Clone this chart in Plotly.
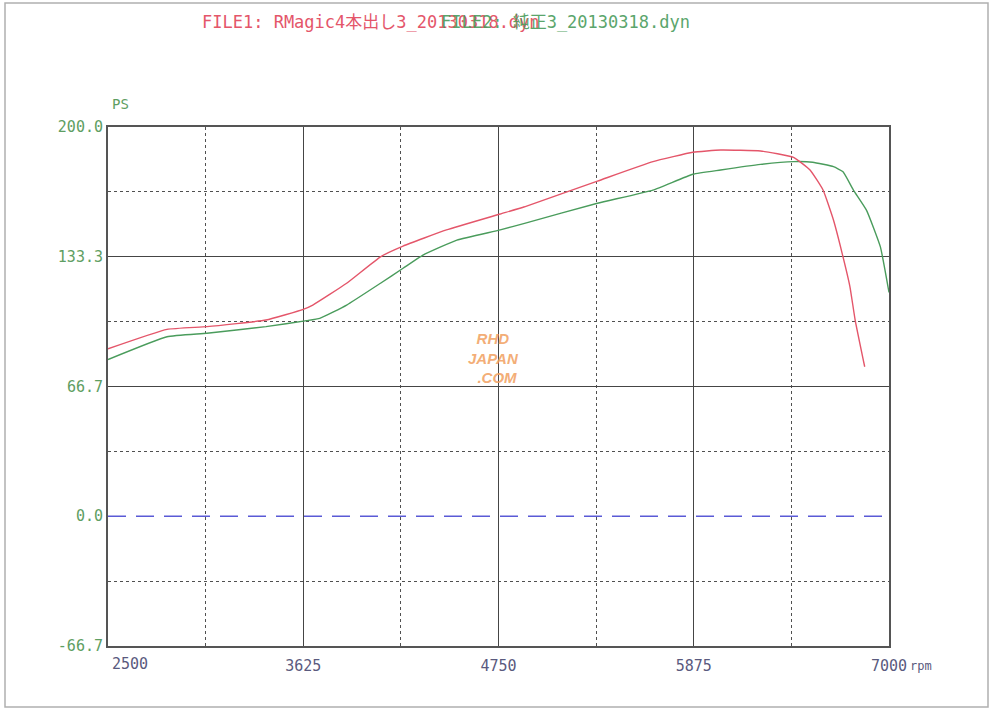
import plotly.graph_objects as go

# ---- data ----
rpm_red = [2500, 2840, 3070, 3410, 3625, 3680, 3875, 4070, 4200, 4450, 4760, 4900,
           5320, 5640, 5870, 6030, 6260, 6450, 6545, 6620, 6680, 6730, 6775, 6805, 6860]
ps_red = [86.0, 96.0, 97.4, 100.8, 106.3, 108.5, 119.7, 133.3, 138.8, 147.1, 155.3, 159.0,
          172.2, 182.2, 187.0, 188.2, 187.7, 184.4, 177.9, 167.6, 152.2, 135.1, 117.9, 100.8, 76.8]

rpm_green = [2500, 2840, 3070, 3410, 3645, 3720, 3875, 4070, 4200, 4315, 4510, 4760, 4900,
             5320, 5640, 5870, 6030, 6260, 6450, 6560, 6680, 6735, 6795, 6870, 6950, 7000]
ps_green = [80.5, 92.2, 94.0, 97.4, 100.5, 101.7, 108.5, 119.7, 127.4, 134.2, 141.9, 147.1, 150.5,
            160.8, 167.6, 175.7, 177.9, 180.8, 182.2, 181.9, 179.6, 177.0, 167.6, 157.3, 138.5, 115.0]

x_ticks = [2500, 3625, 4750, 5875, 7000]
x_minor = [3062.5, 4187.5, 5312.5, 6437.5]
y_ticks = [-66.7, 0.0, 66.7, 133.3, 200.0]
y_minor = [-33.3, 33.3, 100.0, 166.7]
y_grid = [-66.7, 66.7, 133.3, 200.0]

file1 = "FILE1: RMagic4本出し3_20130318.dyn"
file2 = "FILE2: 純正3_20130318.dyn"

RED = "#e4566a"
GREEN = "#4a9c5c"
LABEL_GREEN = "#5e9e62"
NAVY = "#5a5a7e"
MONO = "DejaVu Sans Mono, Liberation Mono, Noto Sans CJK JP"

fig = go.Figure()
fig.add_trace(go.Scatter(x=rpm_green, y=ps_green, mode="lines",
                         line=dict(color=GREEN, width=1.4, shape="spline", smoothing=0.4),
                         hoverinfo="skip", showlegend=False))
fig.add_trace(go.Scatter(x=rpm_red, y=ps_red, mode="lines",
                         line=dict(color=RED, width=1.4, shape="spline", smoothing=0.4),
                         hoverinfo="skip", showlegend=False))
# invisible trace to activate yaxis2 (grid axis)
fig.add_trace(go.Scatter(x=[x_ticks[0]], y=[y_ticks[0]], yaxis="y2", mode="markers",
                         marker=dict(opacity=0), hoverinfo="skip", showlegend=False))

grid_col = "#454545"
fig.update_layout(
    width=992, height=712,
    margin=dict(l=108, r=103, t=127, b=66),
    paper_bgcolor="white", plot_bgcolor="white",
    xaxis=dict(range=[2500, 7000], tickvals=x_ticks[1:], ticktext=[str(v) for v in x_ticks[1:]],
               showgrid=True, gridcolor=grid_col, gridwidth=1.4,
               minor=dict(tickvals=x_minor, showgrid=True, gridcolor="#505050",
                          griddash="dot", gridwidth=1.3),
               showline=True, mirror=True, linecolor="#555555", linewidth=2,
               zeroline=False, ticks="outside", ticklen=5, tickcolor="rgba(0,0,0,0)",
               tickfont=dict(family=MONO, size=15, color=NAVY)),
    yaxis=dict(range=[-66.7, 200.0], tickvals=y_ticks, ticktext=[f"{v:.1f}" for v in y_ticks],
               showgrid=False, zeroline=False,
               showline=True, mirror=True, linecolor="#555555", linewidth=2,
               ticks="", tickfont=dict(family=MONO, size=15, color=LABEL_GREEN)),
    yaxis2=dict(range=[-66.7, 200.0], overlaying="y", tickvals=y_grid, showticklabels=False,
                showgrid=True, gridcolor=grid_col, gridwidth=1.4, zeroline=False,
                minor=dict(tickvals=y_minor, showgrid=True, gridcolor="#505050",
                           griddash="dot", gridwidth=1.3),
                layer="below traces"),
    shapes=[
        dict(type="line", xref="paper", yref="y", x0=0, x1=1, y0=0, y1=0,
             line=dict(color="#5a5ad6", width=1.6, dash="18px,10px")),
        dict(type="rect", xref="paper", yref="paper",
             x0=(5 - 108) / 781, x1=(988 - 108) / 781,
             y0=(646 - 707) / 519, y1=(646 - 3) / 519,
             line=dict(color="#b0b0b0", width=1.5)),
    ],
    annotations=[
        dict(text=file1, xref="paper", yref="paper", x=(200 - 108) / 781, y=(646 - 22) / 519,
             xanchor="left", yanchor="middle", showarrow=False,
             font=dict(family=MONO, size=17, color=RED)),
        dict(text=file2, xref="paper", yref="paper", x=(692 - 108) / 781, y=(646 - 22) / 519,
             xanchor="right", yanchor="middle", showarrow=False, opacity=0.9,
             font=dict(family=MONO, size=17, color=GREEN)),
        dict(text="PS", xref="paper", yref="paper", x=(110 - 108) / 781, y=(646 - 104) / 519,
             xanchor="left", yanchor="middle", showarrow=False,
             font=dict(family=MONO, size=14, color=LABEL_GREEN)),
        dict(text=str(x_ticks[0]), xref="x", yref="paper", x=x_ticks[0], y=(646 - 664) / 519,
             xanchor="left", yanchor="middle", showarrow=False, xshift=2,
             font=dict(family=MONO, size=15, color=NAVY)),
        dict(text="rpm", xref="paper", yref="paper", x=(908 - 108) / 781, y=(646 - 666) / 519,
             xanchor="left", yanchor="middle", showarrow=False,
             font=dict(family=MONO, size=12, color=NAVY)),
        dict(text="<b><i>RHD<br>JAPAN<br>&nbsp;&nbsp;.COM</i></b>", xref="paper", yref="paper",
             x=(493 - 108) / 781, y=(646 - 358) / 519, xanchor="center", yanchor="middle",
             showarrow=False, align="center",
             font=dict(family="Liberation Sans", size=15, color="#f2a060"), opacity=0.85),
    ],
)

fig.write_html("out.html", config={"displayModeBar": False},
               post_script="document.body.style.margin='0';document.body.style.overflow='hidden';")
